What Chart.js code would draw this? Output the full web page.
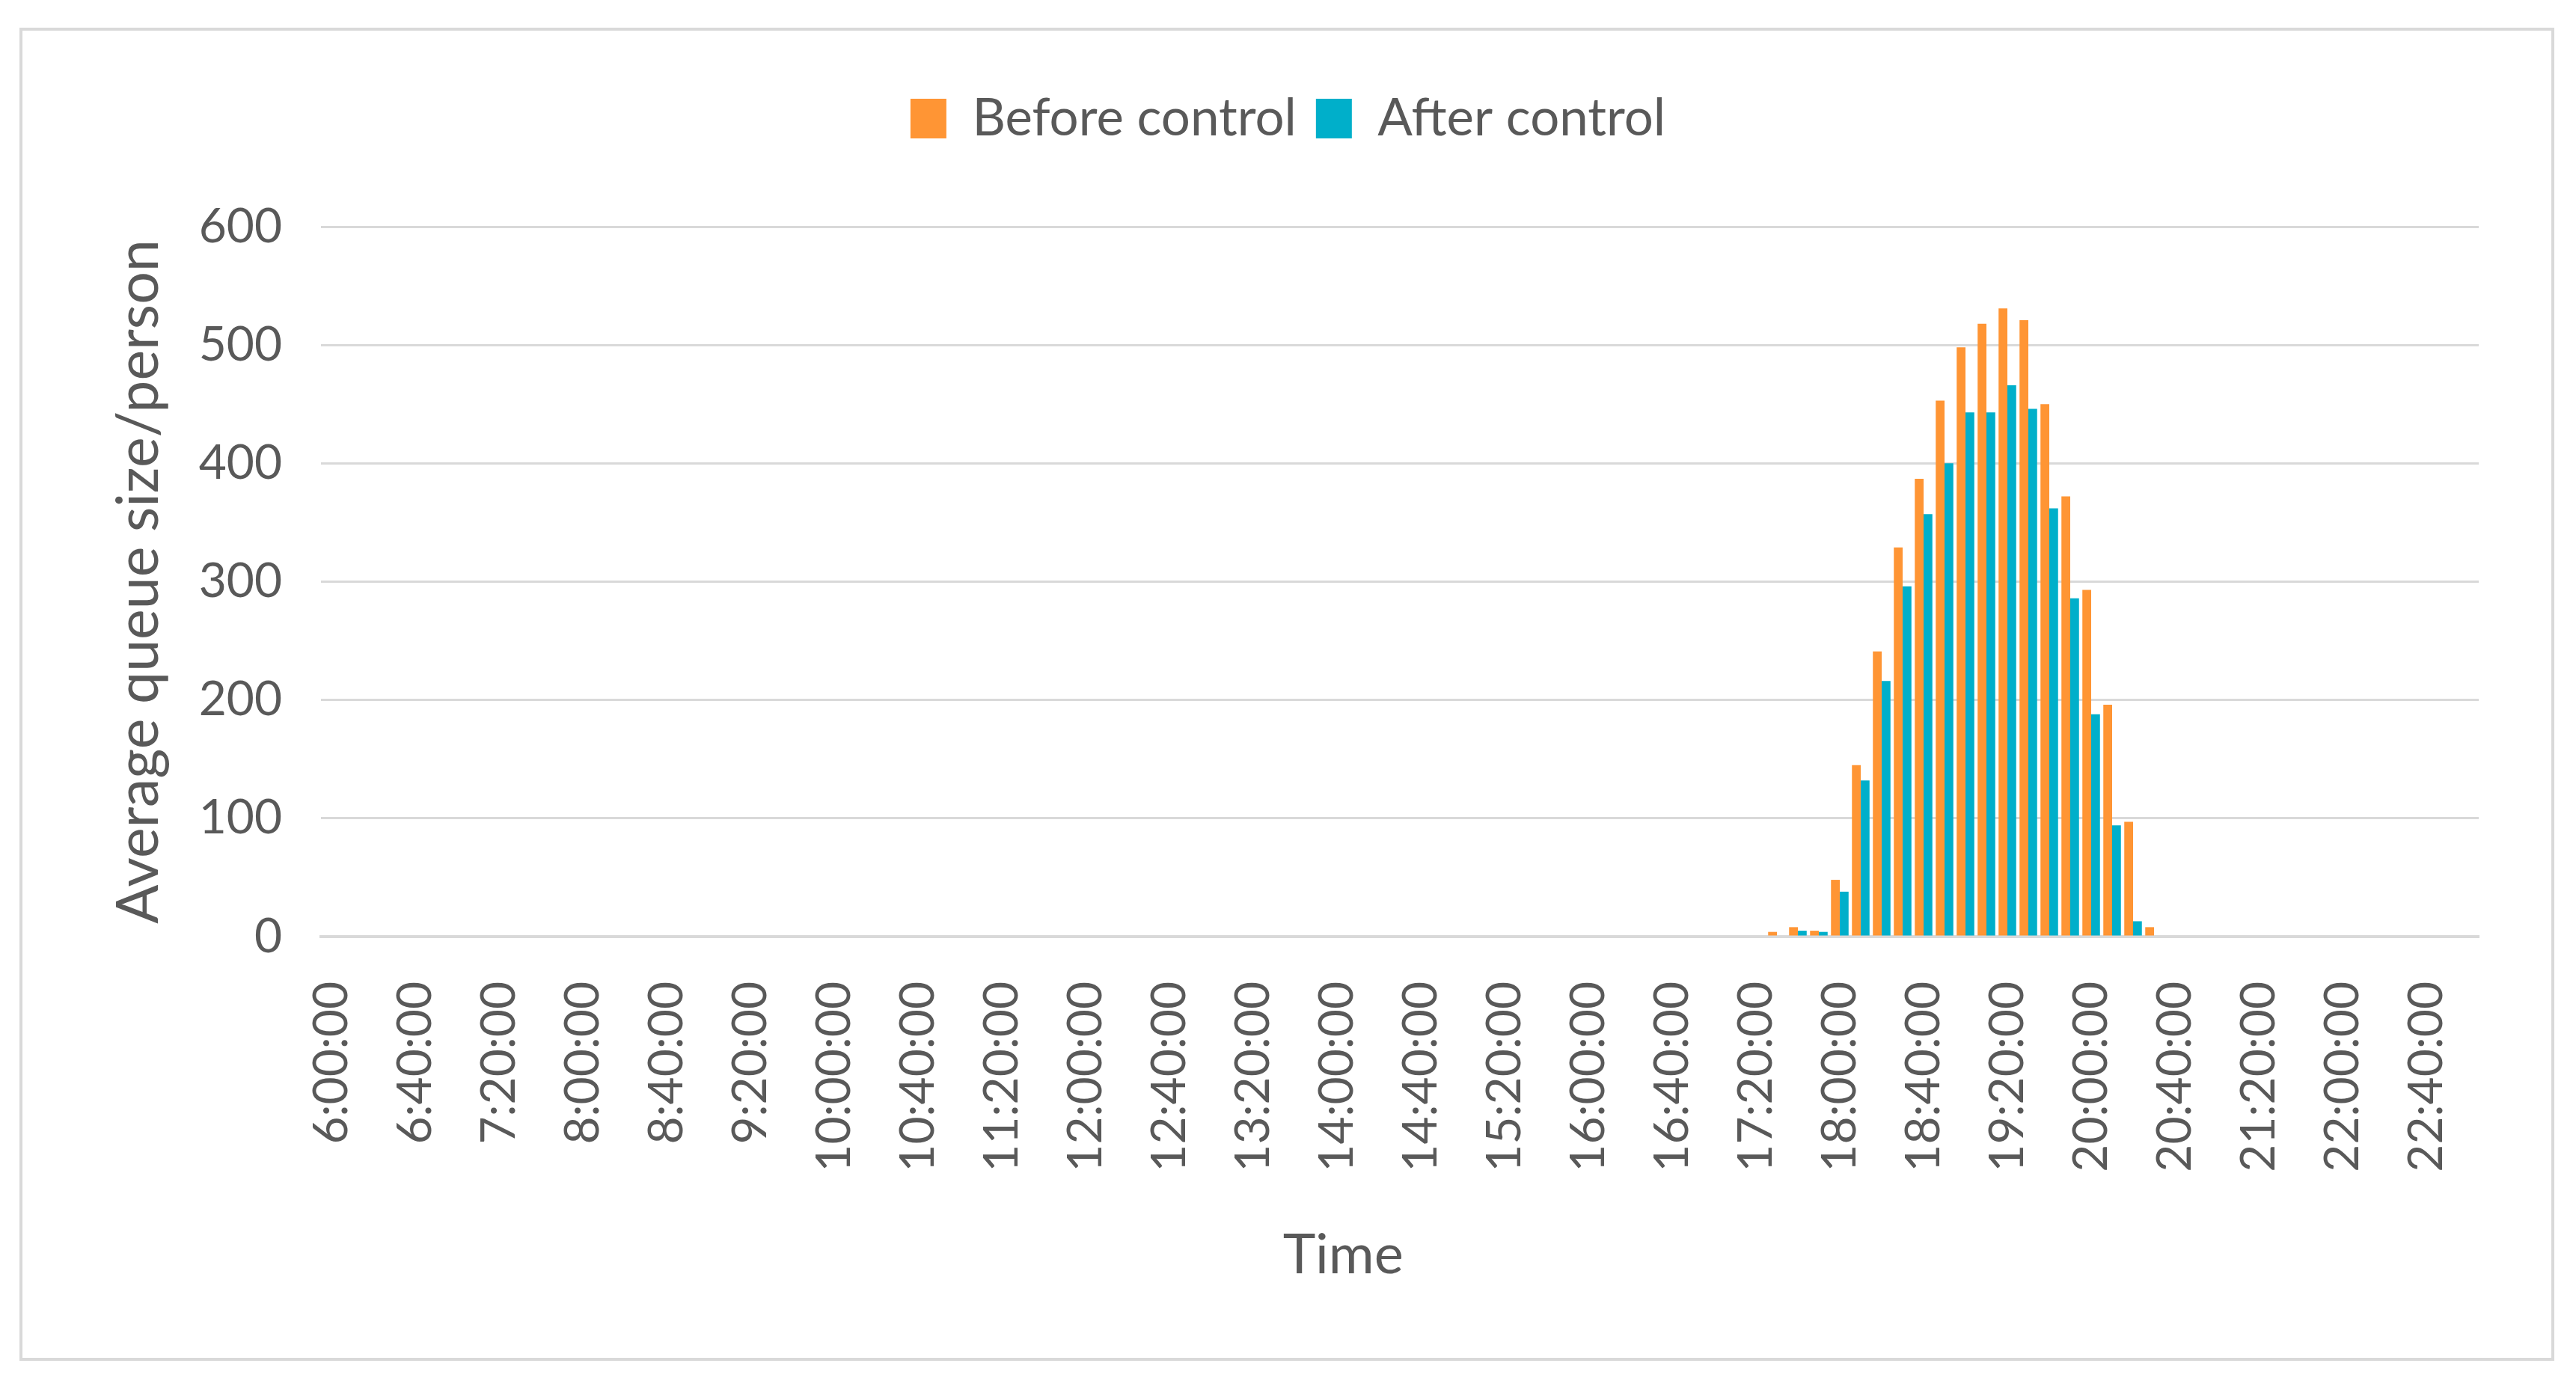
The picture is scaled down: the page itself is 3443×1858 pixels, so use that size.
<!DOCTYPE html>
<html>
<head>
<meta charset="utf-8">
<script src="https://cdn.jsdelivr.net/npm/chart.js@4.4.0/dist/chart.umd.min.js"></script>
<style>
  body { margin: 0; background: #fff; }
  #wrap { position: relative; width: 3443px; height: 1858px; }
  #frame {
    position: absolute; left: 26px; top: 37px; width: 3380px; height: 1774px;
    border: 4px solid #d9d9d9; pointer-events: none;
  }
</style>
</head>
<body>
<div id="wrap">
  <canvas id="chart" width="3443" height="1858"></canvas>
  <div id="frame"></div>
</div>
<script>
// ==================================================
// DATA
// ==================================================
const times = [
  "6:00:00", "6:10:00", "6:20:00", "6:30:00", "6:40:00", "6:50:00",
  "7:00:00", "7:10:00", "7:20:00", "7:30:00", "7:40:00", "7:50:00",
  "8:00:00", "8:10:00", "8:20:00", "8:30:00", "8:40:00", "8:50:00",
  "9:00:00", "9:10:00", "9:20:00", "9:30:00", "9:40:00", "9:50:00",
  "10:00:00", "10:10:00", "10:20:00", "10:30:00", "10:40:00", "10:50:00",
  "11:00:00", "11:10:00", "11:20:00", "11:30:00", "11:40:00", "11:50:00",
  "12:00:00", "12:10:00", "12:20:00", "12:30:00", "12:40:00", "12:50:00",
  "13:00:00", "13:10:00", "13:20:00", "13:30:00", "13:40:00", "13:50:00",
  "14:00:00", "14:10:00", "14:20:00", "14:30:00", "14:40:00", "14:50:00",
  "15:00:00", "15:10:00", "15:20:00", "15:30:00", "15:40:00", "15:50:00",
  "16:00:00", "16:10:00", "16:20:00", "16:30:00", "16:40:00", "16:50:00",
  "17:00:00", "17:10:00", "17:20:00", "17:30:00", "17:40:00", "17:50:00",
  "18:00:00", "18:10:00", "18:20:00", "18:30:00", "18:40:00", "18:50:00",
  "19:00:00", "19:10:00", "19:20:00", "19:30:00", "19:40:00", "19:50:00",
  "20:00:00", "20:10:00", "20:20:00", "20:30:00", "20:40:00", "20:50:00",
  "21:00:00", "21:10:00", "21:20:00", "21:30:00", "21:40:00", "21:50:00",
  "22:00:00", "22:10:00", "22:20:00", "22:30:00", "22:40:00", "22:50:00",
  "23:00:00"
];

// one row per hour, 10 minute steps
const beforeControl = [
  0, 0, 0, 0, 0, 0,        // 6
  0, 0, 0, 0, 0, 0,        // 7
  0, 0, 0, 0, 0, 0,        // 8
  0, 0, 0, 0, 0, 0,        // 9
  0, 0, 0, 0, 0, 0,        // 10
  0, 0, 0, 0, 0, 0,        // 11
  0, 0, 0, 0, 0, 0,        // 12
  0, 0, 0, 0, 0, 0,        // 13
  0, 0, 0, 0, 0, 0,        // 14
  0, 0, 0, 0, 0, 0,        // 15
  0, 0, 0, 0, 0, 0,        // 16
  0, 0, 0, 4, 8, 5,        // 17
  48, 145, 241, 329, 387, 453,   // 18
  498, 518, 531, 521, 450, 372,  // 19
  293, 196, 97, 8, 0, 0,   // 20
  0, 0, 0, 0, 0, 0,        // 21
  0, 0, 0, 0, 0, 0,        // 22
  0                        // 23
];

const afterControl = [
  0, 0, 0, 0, 0, 0,        // 6
  0, 0, 0, 0, 0, 0,        // 7
  0, 0, 0, 0, 0, 0,        // 8
  0, 0, 0, 0, 0, 0,        // 9
  0, 0, 0, 0, 0, 0,        // 10
  0, 0, 0, 0, 0, 0,        // 11
  0, 0, 0, 0, 0, 0,        // 12
  0, 0, 0, 0, 0, 0,        // 13
  0, 0, 0, 0, 0, 0,        // 14
  0, 0, 0, 0, 0, 0,        // 15
  0, 0, 0, 0, 0, 0,        // 16
  0, 0, 0, 0, 5, 4,        // 17
  38, 132, 216, 296, 357, 400,   // 18
  443, 443, 466, 446, 362, 286,  // 19
  188, 94, 13, 0, 0, 0,    // 20
  0, 0, 0, 0, 0, 0,        // 21
  0, 0, 0, 0, 0, 0,        // 22
  0                        // 23
];

const seriesNames = ["Before control", "After control"];
const yTicks = [0, 100, 200, 300, 400, 500, 600];
const labelEvery = 4; // only every 40 min shows a label

// ==================================================
// CHART
// ==================================================
const textColor = "#595959";
const gridColor = "#d9d9d9";

// push the plot down below the legend
const legendGap = {
  id: "legendGap",
  beforeInit(chart) {
    const fit = chart.legend.fit;
    chart.legend.fit = function () {
      fit.bind(chart.legend)();
      this.height += 100;
    };
  },
};

const ctx = document.getElementById("chart").getContext("2d");

new Chart(ctx, {
  type: "bar",
  data: {
    labels: times,
    datasets: [
      {
        label: seriesNames[0],
        data: beforeControl,
        backgroundColor: "#ff9534",
        borderWidth: 0,
        categoryPercentage: 0.84,
        barPercentage: 1.0,
      },
      {
        label: seriesNames[1],
        data: afterControl,
        backgroundColor: "#00afca",
        borderWidth: 0,
        categoryPercentage: 0.84,
        barPercentage: 1.0,
      },
    ],
  },
  plugins: [legendGap],
  options: {
    responsive: false,
    animation: false,
    devicePixelRatio: 1,
    layout: { padding: { top: 98, left: 130, right: 130, bottom: 0 } },
    plugins: {
      tooltip: { enabled: false },
      legend: {
        position: "top",
        labels: {
          color: textColor,
          font: { family: "Lato", size: 69 },
          boxWidth: 48,
          boxHeight: 53,
          padding: 26,
        },
      },
    },
    scales: {
      x: {
        grid: { display: false },
        border: { display: true, color: gridColor, width: 4 },
        ticks: {
          color: textColor,
          font: { family: "Lato", size: 64 },
          autoSkip: false,
          minRotation: 90,
          maxRotation: 90,
          padding: 52,
          callback: function (value, index) {
            return index % labelEvery === 0 ? times[index] : "";
          },
        },
        title: {
          display: true,
          // trailing spaces nudge the title left of the plot centre
          text: "Time" + "\u00a0".repeat(8),
          color: textColor,
          font: { family: "Lato", size: 74 },
          padding: { top: 0, bottom: 135 },
        },
        afterFit: function (scale) {
          scale.height = 606;
        },
      },
      y: {
        min: 0,
        max: 600,
        afterBuildTicks: function (scale) {
          scale.ticks = yTicks.map((v) => ({ value: v }));
        },
        grid: { color: gridColor, lineWidth: 3, drawTicks: false },
        border: { display: false },
        ticks: {
          color: textColor,
          font: { family: "Lato", size: 64 },
          padding: 52,
        },
        title: {
          display: true,
          text: "Average queue size/person",
          color: textColor,
          font: { family: "Lato", size: 77 },
          padding: { top: 10, bottom: 0 },
        },
        afterFit: function (scale) {
          scale.width = 299;
        },
      },
    },
  },
});
</script>
</body>
</html>
